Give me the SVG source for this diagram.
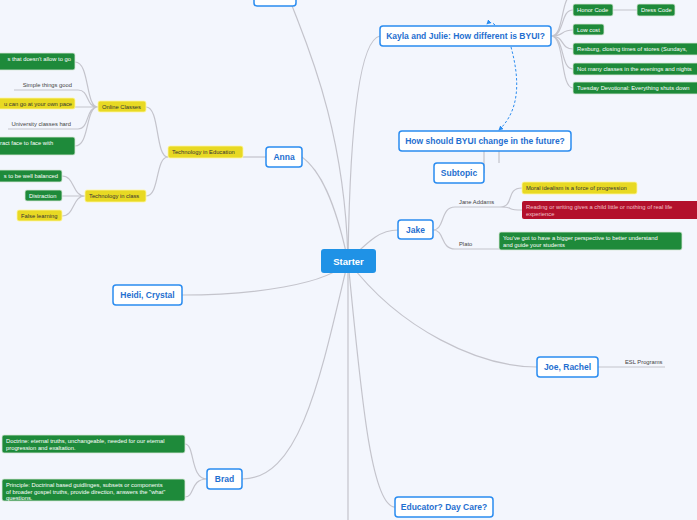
<svg xmlns="http://www.w3.org/2000/svg" width="697" height="520" viewBox="0 0 697 520">
<style>
text{font-family:"Liberation Sans",Arial,sans-serif}
.n rect{fill:#fff;stroke:#2a8cf0;stroke-width:1.5}
.n text{fill:#1f6fd0;font-size:8.5px;font-weight:bold;text-anchor:middle}
.g rect{fill:#1e8a3a;stroke:#d8e8d8;stroke-width:.8}
.g text{fill:#fff;font-size:5.8px}
.y rect{fill:#e8d923;stroke:#fff6a0;stroke-width:.8}
.y text{fill:#333;font-size:5.8px}
.r rect{fill:#b3102c}
.r text{fill:#f2c0c8;font-size:5.8px}
.p text{fill:#444;font-size:5.8px}
.c path{fill:none;stroke:#c4c4cc;stroke-width:1.2}
.c path.d{fill:none;stroke:#2a8cf0;stroke-width:1;stroke-dasharray:2.5 2}
</style>
<defs><marker id="a" viewBox="0 0 6 6" refX="5" refY="3" markerWidth="5" markerHeight="5" orient="auto"><path d="M0,0L6,3L0,6z" fill="#2a8cf0"/></marker></defs>
<rect width="697" height="520" fill="#f3f6fd"/>
<g class="c">
<path d="M348,261 C345,120 300,30 290,0" stroke-width="1.6"/>
<path d="M348,261 C350,120 360,40 380,36" stroke-width="1.6"/>
<path d="M348,261 C335,200 320,170 302,157" stroke-width="1.6"/>
<path d="M348,261 C330,285 250,295 182,295" stroke-width="1.6"/>
<path d="M348,261 C370,240 380,230 398,230" stroke-width="1.6"/>
<path d="M348,261 C400,330 480,367 537,367" stroke-width="1.6"/>
<path d="M348,261 C320,380 300,479 242,479" stroke-width="1.6"/>
<path d="M348,261 C360,380 370,507 395,507" stroke-width="1.6"/>
<path d="M348,261 L348,520" stroke-width="1.6"/>
<path d="M484,151 L484,173 M499,151 L499,163"/>
<path d="M266,157 L243,157"/>
<path d="M168,157 C155,157 160,107 146,107"/>
<path d="M168,157 C155,157 160,196 146,196"/>
<path d="M98,107 C85,107 90,62 75,62 M98,107 C85,107 90,90 78,90 L14,90 M98,107 L75,107 M98,107 C85,107 90,129 78,129 L8,129 M98,107 C85,107 90,146 75,146"/>
<path d="M85,196 C72,196 75,176 62,176 M85,196 L62,196 M85,196 C72,196 75,216 62,216"/>
<path d="M551,36 C565,36 560,10 573,10 M613,10 C625,10 625,10 637,10 M551,36 C565,36 560,30 573,30 M551,36 C565,36 560,49 573,49 M551,36 C565,36 560,69 573,69 M551,36 C565,36 560,88 573,88 M551,36 C565,36 560,-5 573,-5"/>
<path d="M433,230 C445,230 440,207 455,207 L500,207 M433,230 C445,230 440,249 455,249 L499,249 M500,207 C515,207 505,188 522,188 M500,207 C515,207 505,210 522,210"/>
<path d="M598,367 L625,367 L665,367"/>
<path d="M207,479 C190,479 195,444 185,444 M207,479 C190,479 195,497 185,497"/>
<path class="d" d="M511,47 C520,80 520,110 499,130" marker-end="url(#a)"/>
<path class="d" d="M495,25 C492,22 489,22 487,24" marker-end="url(#a)"/>
</g>
<g id="starter"><rect x="321" y="249" width="55" height="24" rx="3" fill="#1f92e6"/><text x="348.5" y="264.5" fill="#fff" font-size="9.5" font-weight="bold" text-anchor="middle">Starter</text></g>
<g id="top" class="n"><rect x="254" y="-10" width="42" height="16" rx="3"/></g>
<g id="kayla" class="n"><rect x="380" y="26" width="171" height="20" rx="3"/><text x="465.5" y="39">Kayla and Julie: How different is BYUI?</text></g>
<g id="future" class="n"><rect x="399" y="131" width="172" height="20" rx="3"/><text x="485" y="144">How should BYUI change in the future?</text></g>
<g id="subtopic" class="n"><rect x="434" y="163" width="50" height="20" rx="3"/><text x="459" y="176">Subtopic</text></g>
<g id="anna" class="n"><rect x="266" y="147" width="36" height="20" rx="3"/><text x="284" y="160">Anna</text></g>
<g id="heidi" class="n"><rect x="113" y="285" width="69" height="20" rx="3"/><text x="147.5" y="298">Heidi, Crystal</text></g>
<g id="jake" class="n"><rect x="398" y="220" width="35" height="19" rx="3"/><text x="415.5" y="232.5">Jake</text></g>
<g id="joe" class="n"><rect x="537" y="357" width="61" height="20" rx="3"/><text x="567.5" y="370">Joe, Rachel</text></g>
<g id="brad" class="n"><rect x="207" y="469" width="35" height="20" rx="3"/><text x="224.5" y="482">Brad</text></g>
<g id="educator" class="n"><rect x="395" y="497" width="98" height="20" rx="3"/><text x="444" y="510">Educator? Day Care?</text></g>
<g id="techedu" class="y"><rect x="168" y="146" width="75" height="12" rx="2"/><text x="172" y="154">Technology in Education</text></g>
<g id="online" class="y"><rect x="98" y="101" width="48" height="11" rx="2"/><text x="102" y="108.5">Online Classes</text></g>
<g id="techclass" class="y"><rect x="85" y="190" width="61" height="12" rx="2"/><text x="89" y="198">Technology in class</text></g>
<g id="o1" class="g"><rect x="-5" y="53" width="80" height="17" rx="2"/><text x="71" y="61" text-anchor="end">s that doesn't allow to go</text></g>
<g id="o2" class="p"><text x="72" y="87" text-anchor="end">Simple things good</text></g>
<g id="o3" class="y"><rect x="-5" y="98" width="80" height="11" rx="2"/><text x="72" y="105.5" text-anchor="end">u can go at your own pace</text></g>
<g id="o4" class="p"><text x="71" y="126" text-anchor="end">University classes hard</text></g>
<g id="o5" class="g"><rect x="-5" y="137" width="80" height="18" rx="2"/><text x="0" y="145">ract face to face with</text></g>
<g id="t1" class="g"><rect x="-5" y="170" width="67" height="12" rx="2"/><text x="58" y="178" text-anchor="end">s to be well balanced</text></g>
<g id="t2" class="g"><rect x="25" y="190" width="37" height="11" rx="2"/><text x="29" y="197.5">Distraction</text></g>
<g id="t3" class="y"><rect x="17" y="210" width="45" height="11" rx="2"/><text x="21" y="217.5">False learning</text></g>
<g id="k0" class="g"><rect x="573" y="-12" width="124" height="9" rx="2"/></g>
<g id="k1" class="g"><rect x="573" y="4" width="40" height="12" rx="2"/><text x="577" y="12">Honor Code</text></g>
<g id="k2" class="g"><rect x="637" y="4" width="38" height="12" rx="2"/><text x="641" y="12">Dress Code</text></g>
<g id="k3" class="g"><rect x="573" y="24" width="31" height="11" rx="2"/><text x="577" y="31.5">Low cost</text></g>
<g id="k4" class="g"><rect x="573" y="43" width="130" height="12" rx="2"/><text x="577" y="51">Rexburg, closing times of stores (Sundays,</text></g>
<g id="k5" class="g"><rect x="573" y="63" width="130" height="12" rx="2"/><text x="577" y="71">Not many classes in the evenings and nights</text></g>
<g id="k6" class="g"><rect x="573" y="82" width="130" height="12" rx="2"/><text x="577" y="90">Tuesday Devotional: Everything shuts down</text></g>
<g id="jane" class="p"><text x="459" y="204">Jane Addams</text></g>
<g id="plato" class="p"><text x="459" y="246">Plato</text></g>
<g id="j1" class="y"><rect x="522" y="182" width="115" height="12" rx="2"/><text x="526" y="190">Moral idealism is a force of progression</text></g>
<g id="j2" class="r"><rect x="522" y="201" width="180" height="18" rx="2"/><text x="526" y="209">Reading or writing gives a child little or nothing of real life</text><text x="526" y="216">experience</text></g>
<g id="j3" class="g"><rect x="499" y="232" width="183" height="18" rx="2"/><text x="503" y="240">You've got to have a bigger perspective to better understand</text><text x="503" y="247">and guide your students</text></g>
<g id="esl" class="p"><text x="625" y="364">ESL Programs</text></g>
<g id="b1" class="g"><rect x="2" y="435" width="183" height="18" rx="2"/><text x="6" y="443">Doctrine: eternal truths, unchangeable, needed for our eternal</text><text x="6" y="450">progression and exaltation.</text></g>
<g id="b2" class="g"><rect x="2" y="479" width="183" height="22" rx="2"/><text x="6" y="487">Principle: Doctrinal based guidlinges, subsets or components</text><text x="6" y="493.5">of broader gospel truths, provide direction, answers the "what"</text><text x="6" y="500">questions.</text></g>
</svg>
